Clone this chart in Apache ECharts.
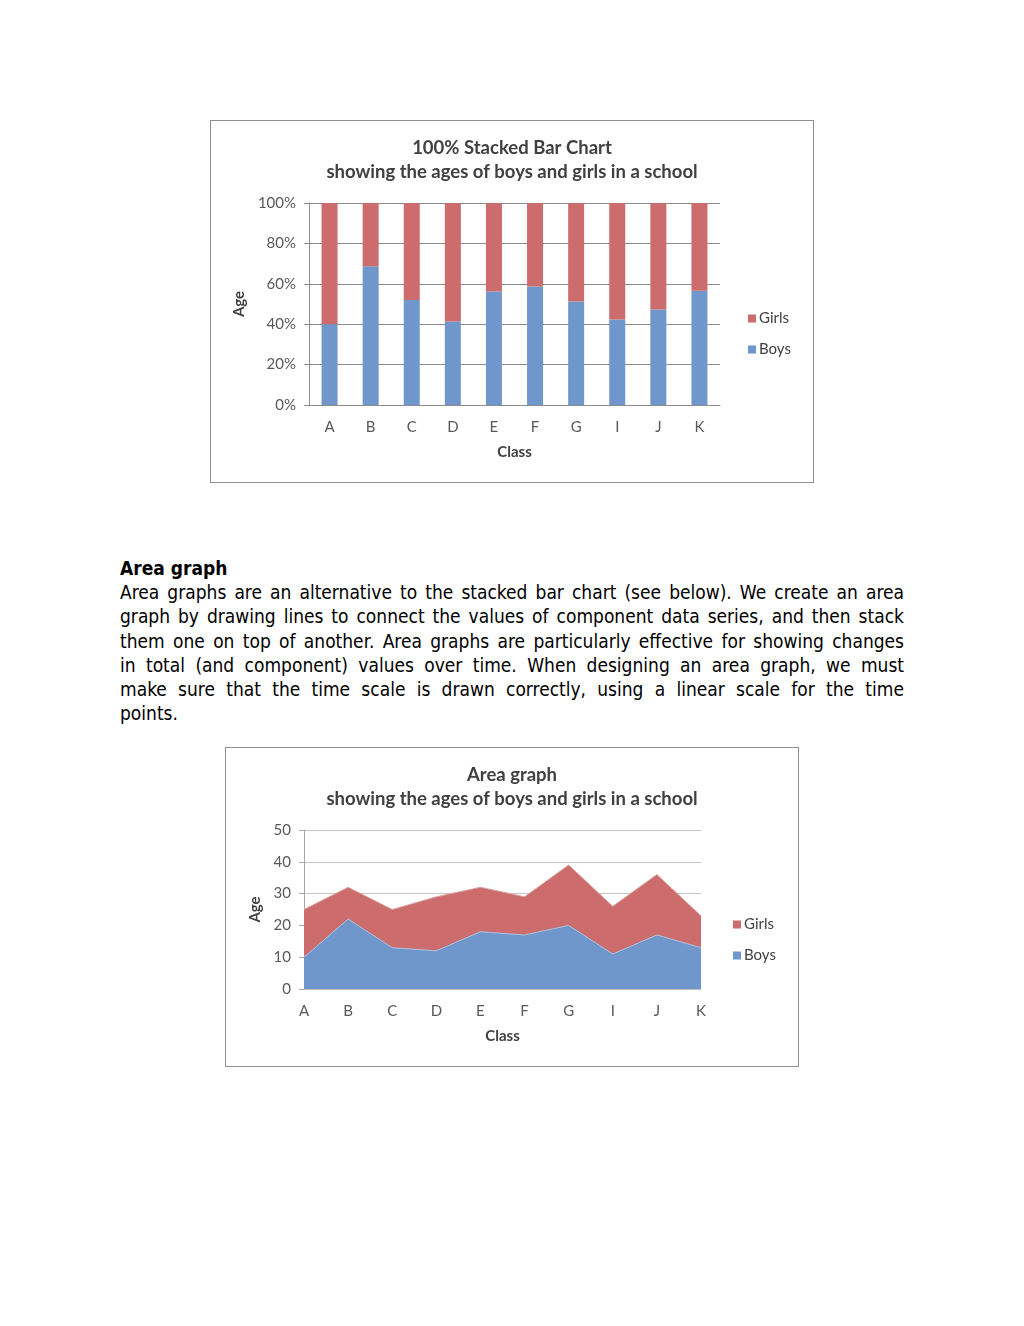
<!DOCTYPE html>
<html>
<head>
<meta charset="utf-8">
<script src="https://cdn.jsdelivr.net/npm/echarts@6/dist/echarts.min.js"></script>
<style>
  body { margin: 0; background: #fff; }
  #page { position: relative; width: 1024px; height: 1326px; }
  .box { position: absolute; border: 1px solid #8f8f8f; background: #fff; }
  #chart1 { left: 210px; top: 120px; width: 602px; height: 361px; }
  #chart2 { left: 225px; top: 747px; width: 572px; height: 318px; }
  #text {
    position: absolute; left: 120px; top: 556px; width: 784px;
    font-family: "DejaVu Sans Condensed", "DejaVu Sans", sans-serif;
    font-stretch: condensed;
    font-size: 19px; line-height: 24.2px; color: #000;
  }
  #text .h { font-weight: bold; }
  #text .j { text-align: justify; text-align-last: justify; white-space: nowrap; }
</style>
</head>
<body>
<div id="page">
  <div id="chart1" class="box"></div>
  <div id="text">
    <div class="h">Area graph</div>
    <div class="j">Area graphs are an alternative to the stacked bar chart (see below). We create an area</div>
    <div class="j">graph by drawing lines to connect the values of component data series, and then stack</div>
    <div class="j">them one on top of another. Area graphs are particularly effective for showing changes</div>
    <div class="j">in total (and component) values over time. When designing an area graph, we must</div>
    <div class="j">make sure that the time scale is drawn correctly, using a linear scale for the time</div>
    <div>points.</div>
  </div>
  <div id="chart2" class="box"></div>
</div>
<script>
var classes = ['A', 'B', 'C', 'D', 'E', 'F', 'G', 'I', 'J', 'K'];
var boys = [10, 22, 13, 12, 18, 17, 20, 11, 17, 13];
var girls = [15, 10, 12, 17, 14, 12, 19, 15, 19, 10];

// 100% stacked: share of each class total
var boysPct = boys.map(function (v, i) { return v / (v + girls[i]) * 100; });
var girlsPct = girls.map(function (v, i) { return v / (v + boys[i]) * 100; });

var blue = '#7097cb';
var red = '#cc6c6c';
var font = 'Lato, "Noto Sans", sans-serif';

function baseOption(titleText, gridPos, legendPos) {
    return {
        animation: false,
        textStyle: { fontFamily: font },
        title: {
            text: titleText,
            left: 'center',
            top: 10,
            textStyle: {
                fontFamily: font, fontSize: 18.5, fontWeight: 'bold',
                color: '#404040', lineHeight: 24, align: 'center'
            }
        },
        legend: {
            data: ['Girls', 'Boys'],
            orient: 'vertical',
            left: legendPos[0],
            top: legendPos[1],
            icon: 'rect',
            itemWidth: 8,
            itemHeight: 8,
            itemGap: 16,
            textStyle: { fontFamily: font, fontSize: 15, color: '#404040', padding: [0, 0, 0, -2] }
        },
        grid: { left: gridPos[0], top: gridPos[1], width: gridPos[2], height: gridPos[3] }
    };
}

var chart1 = echarts.init(document.getElementById('chart1'));
var opt1 = baseOption('100% Stacked Bar Chart\nshowing the ages of boys and girls in a school',
    [98, 82, 411, 202], [532, 185]);
opt1.xAxis = {
    type: 'category',
    data: classes,
    name: 'Class',
    nameLocation: 'middle',
    nameGap: 40,
    nameTextStyle: { fontSize: 15, fontWeight: 'bold', color: '#404040' },
    axisLine: { lineStyle: { color: '#8c8c8c' } },
    axisTick: { show: false },
    axisLabel: { fontSize: 15, color: '#595959', margin: 15 }
};
opt1.yAxis = {
    type: 'value',
    min: 0,
    max: 100,
    interval: 20,
    name: 'Age',
    nameLocation: 'middle',
    nameGap: 55,
    nameRotate: 90,
    nameTextStyle: { fontSize: 15, fontWeight: 'bold', color: '#404040' },
    axisLine: { show: true, lineStyle: { color: '#8c8c8c' } },
    axisTick: { show: true, length: 5, lineStyle: { color: '#8c8c8c' } },
    axisLabel: { formatter: '{value}%', fontSize: 15, color: '#595959', margin: 13 },
    splitLine: { lineStyle: { color: '#8c8c8c' } }
};
opt1.series = [
    { name: 'Boys', type: 'bar', stack: 'all', barWidth: 16, itemStyle: { color: blue }, data: boysPct },
    { name: 'Girls', type: 'bar', stack: 'all', barWidth: 16, itemStyle: { color: red }, data: girlsPct }
];
chart1.setOption(opt1);

var chart2 = echarts.init(document.getElementById('chart2'));
var opt2 = baseOption('Area graph\nshowing the ages of boys and girls in a school',
    [78, 82, 397, 159], [502, 164]);
opt2.xAxis = {
    type: 'category',
    data: classes,
    boundaryGap: false,
    name: 'Class',
    nameLocation: 'middle',
    nameGap: 40,
    nameTextStyle: { fontSize: 15, fontWeight: 'bold', color: '#404040' },
    axisLine: { lineStyle: { color: '#bfbfbf' } },
    axisTick: { show: false },
    axisLabel: { fontSize: 15, color: '#595959', margin: 15 }
};
opt2.yAxis = {
    type: 'value',
    min: 0,
    max: 50,
    interval: 10,
    name: 'Age',
    nameLocation: 'middle',
    nameGap: 35,
    nameRotate: 90,
    nameTextStyle: { fontSize: 15, fontWeight: 'bold', color: '#404040' },
    axisLine: { show: true, lineStyle: { color: '#a6a6a6' } },
    axisTick: { show: true, length: 5, lineStyle: { color: '#a6a6a6' } },
    axisLabel: { fontSize: 15, color: '#595959', margin: 13 },
    splitLine: { lineStyle: { color: '#c4c4c4' } }
};
opt2.series = [
    {
        name: 'Boys', type: 'line', stack: 'all', symbol: 'none',
        lineStyle: { width: 1, color: '#a9bfe0' }, itemStyle: { color: blue },
        areaStyle: { color: blue, opacity: 1 }, data: boys
    },
    {
        name: 'Girls', type: 'line', stack: 'all', symbol: 'none',
        lineStyle: { width: 1, color: '#dca3a3' }, itemStyle: { color: red },
        areaStyle: { color: red, opacity: 1 }, data: girls
    }
];
chart2.setOption(opt2);
</script>
</body>
</html>
